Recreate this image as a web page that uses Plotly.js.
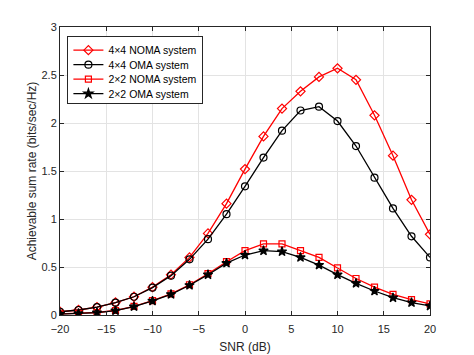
<!DOCTYPE html>
<html><head><meta charset="utf-8">
<script src="https://cdn.plot.ly/plotly-3.0.1.min.js"></script>
<style>body{margin:0;background:#fff}#c{width:474px;height:355px}</style>
</head><body><div id="c"></div>
<script>
const snr = [-20,-18,-16,-14,-12,-10,-8,-6,-4,-2,0,2,4,6,8,10,12,14,16,18,20];
const noma44 = [0.034,0.052,0.083,0.13,0.19,0.29,0.42,0.60,0.85,1.16,1.52,1.86,2.15,2.33,2.48,2.57,2.45,2.08,1.66,1.20,0.84];
const oma44  = [0.034,0.052,0.083,0.128,0.19,0.285,0.41,0.58,0.79,1.05,1.34,1.64,1.92,2.13,2.17,2.02,1.76,1.43,1.11,0.82,0.60];
const noma22 = [0.012,0.018,0.026,0.047,0.09,0.15,0.22,0.315,0.43,0.555,0.67,0.74,0.74,0.67,0.60,0.49,0.38,0.29,0.215,0.16,0.115];
const oma22  = [0.010,0.016,0.024,0.045,0.087,0.146,0.215,0.31,0.42,0.54,0.625,0.67,0.66,0.60,0.52,0.42,0.33,0.25,0.18,0.13,0.094];
const names = ['4\u00d74 NOMA system','4\u00d74 OMA system','2\u00d72 NOMA system','2\u00d72 OMA system'];

const red = '#ff0000', blk = '#000000';
function tr(y, name, color, sym, size){
  return {x: snr, y: y, name: name, type:'scatter', mode:'lines+markers',
    line:{color:color, width:1.3},
    marker:{symbol:sym, size:size, color: color, line:{color:color, width:1.2}}};
}
const data = [
  tr(noma44, names[0], red, 'diamond-open', 7),
  tr(oma44, names[1], blk, 'circle-open', 7),
  tr(noma22, names[2], red, 'square-open', 6),
  tr(oma22, names[3], blk, 'star', 7)
];
const ax = {showline:true, linecolor:'#262626', linewidth:1, mirror:'ticks', ticks:'inside', ticklen:4, tickcolor:'#262626',
  showgrid:true, gridcolor:'#e3e3e3', zeroline:false, tickfont:{size:11, color:'#262626'}};
const layout = {
  width:474, height:355, margin:{l:60, r:44, t:27, b:40},
  paper_bgcolor:'#fff', plot_bgcolor:'#fff',
  font:{family:'Liberation Sans, Arial, sans-serif', size:11, color:'#262626'},
  xaxis: Object.assign({}, ax, {range:[-20,20], tickvals:[-20,-15,-10,-5,0,5,10,15,20], ticklabelstandoff:4, title:{text:'SNR (dB)', standoff:8, font:{size:12}}}),
  yaxis: Object.assign({}, ax, {range:[0,3], tickvals:[0,0.5,1,1.5,2,2.5,3], ticktext:['0','0.5','1','1.5','2','2.5','3'], title:{text:'Achievable sum rate (bits/sec/Hz)', standoff:2, font:{size:12}}}),
  legend:{x:0.02, y:0.97, xanchor:'left', yanchor:'top', bgcolor:'#fff', bordercolor:'#262626', borderwidth:1,
    font:{size:10.5, color:'#000'}, tracegroupgap:0, itemwidth:30},
  showlegend:true
};
Plotly.newPlot('c', data, layout, {displayModeBar:false, staticPlot:true}).then(function(gd){
  // tighten legend row spacing to match the compact reference legend
  const leg = gd.querySelector('g.legend');
  if(!leg) return;
  const items = leg.querySelectorAll('g.traces');
  const step = 14.5;
  let y0 = null;
  items.forEach(function(g, i){
    const t = g.getAttribute('transform') || '';
    const m = t.match(/translate\(\s*([-\d.]+)[ ,]+([-\d.]+)\s*\)/);
    if(!m) return;
    if(y0 === null) y0 = parseFloat(m[2]) - 1;
    g.setAttribute('transform', 'translate(' + m[1] + ',' + (y0 + i*step) + ')');
  });
  const bg = leg.querySelector('rect.bg');
  if(bg && y0 !== null){
    const h = y0 + (items.length - 1)*step + 9;
    bg.setAttribute('height', h);
  }
});
</script></body></html>
